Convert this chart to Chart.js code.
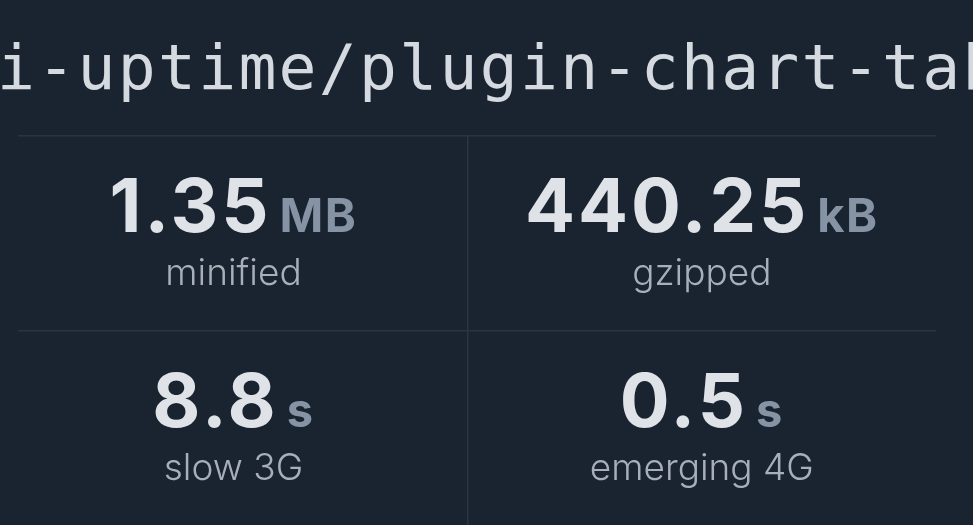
<!DOCTYPE html>
<html>
<head>
<meta charset="utf-8">
<script src="https://cdn.jsdelivr.net/npm/chart.js@4"></script>
<style>
  html, body { margin: 0; padding: 0; background: #1a2330; overflow: hidden; }
  canvas { display: block; }
</style>
</head>
<body>
<canvas id="stats" width="973" height="525"></canvas>
<script>
// package stats
const packageName = 'i-uptime/plugin-chart-tab';
const statValues = ['1.35', '440.25', '8.8', '0.5'];
const statUnits = ['MB', 'kB', 's', 's'];
const statLabels = ['minified', 'gzipped', 'slow 3G', 'emerging 4G'];
// cell of each stat: [column, row]
const statCells = [[0, 0], [1, 0], [0, 1], [1, 1]];

const BG = '#1a2330';
const LINE = '#2b3542';

// draws the package name and the stat cells using the chart scales
const statsPlugin = {
  id: 'stats',
  beforeDraw(chart) {
    const ctx = chart.ctx;
    ctx.save();
    ctx.fillStyle = BG;
    ctx.fillRect(0, 0, chart.width, chart.height);
    ctx.restore();
  },
  afterDraw(chart) {
    const ctx = chart.ctx;
    const x = chart.scales.x, y = chart.scales.y;
    ctx.save();

    // title
    ctx.font = '63px "DejaVu Sans Mono"';
    ctx.letterSpacing = '2.3px';
    ctx.fillStyle = '#d5dae0';
    ctx.textAlign = 'left';
    ctx.textBaseline = 'alphabetic';
    ctx.fillText(packageName, -3, 89);

    statValues.forEach((val, i) => {
      const [col, row] = statCells[i];
      const cx = x.getPixelForValue(col + 0.5);
      const vy = y.getPixelForValue(row + 0.49);
      const ly = y.getPixelForValue(row + 0.763);

      const valFont = 'bold 74px Inter', unitFont = 'bold 47px Inter';
      ctx.letterSpacing = '3px';
      ctx.font = valFont;
      const vw = ctx.measureText(val).width;
      ctx.letterSpacing = '1.5px';
      ctx.font = unitFont;
      const uw = ctx.measureText(statUnits[i]).width;
      const gap = 8;
      const left = cx - (vw + gap + uw) / 2;

      ctx.textAlign = 'left';
      ctx.letterSpacing = '3px';
      ctx.font = valFont;
      ctx.fillStyle = '#dfe3e8';
      ctx.fillText(val, left, vy);
      ctx.letterSpacing = '1.5px';
      ctx.font = unitFont;
      ctx.fillStyle = '#8593a5';
      ctx.fillText(statUnits[i], left + vw + gap, vy);

      ctx.letterSpacing = '0px';
      ctx.textAlign = 'center';
      ctx.font = '300 37px Inter';
      ctx.fillStyle = '#a7afb9';
      ctx.fillText(statLabels[i], cx, ly);
    });
    ctx.restore();
  }
};

new Chart(document.getElementById('stats'), {
  type: 'scatter',
  data: { datasets: [{ data: [] }] },
  options: {
    responsive: false,
    animation: false,
    events: [],
    layout: { padding: { left: 18, right: 37, top: 136, bottom: 0 } },
    plugins: { legend: { display: false }, tooltip: { enabled: false } },
    scales: {
      x: {
        type: 'linear', min: 0.04, max: 2,
        afterBuildTicks: s => { s.ticks = [{ value: 1 }]; },
        ticks: { display: false },
        grid: { color: LINE, lineWidth: 1.5, drawTicks: false },
        border: { display: false }
      },
      y: {
        type: 'linear', min: 0, max: 1.995, reverse: true,
        afterBuildTicks: s => { s.ticks = [{ value: 0 }, { value: 1 }]; },
        ticks: { display: false },
        grid: { color: LINE, lineWidth: 1.5, drawTicks: false },
        border: { display: false }
      }
    }
  },
  plugins: [statsPlugin]
});
</script>
</body>
</html>
